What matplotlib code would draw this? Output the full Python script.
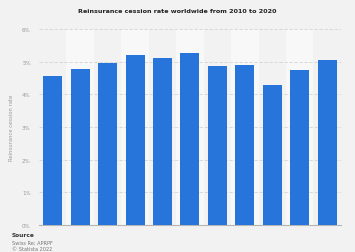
import matplotlib.pyplot as plt

years = ['2010', '2011', '2012', '2013', '2014', '2015', '2016', '2017', '2018', '2019', '2020']
cession_rate = [4.58, 4.79, 4.98, 5.20, 5.13, 5.26, 4.87, 4.92, 4.30, 4.76, 5.07]
y_ticks = [0, 1, 2, 3, 4, 5, 6]
y_tick_labels = ['0%', '1%', '2%', '3%', '4%', '5%', '6%']

bg = '#f2f2f2'
fig = plt.figure(figsize=(3.55, 2.53), dpi=100, facecolor=bg)
ax = fig.add_axes([0.11, 0.108, 0.85, 0.772])
ax.set_facecolor(bg)

x = range(len(years))
# alternating column bands
for i in x:
    if i % 2 == 1:
        ax.axvspan(i - 0.5, i + 0.5, color='#f8f8f8', zorder=0, lw=0)

for t in y_ticks[1:]:
    ax.axhline(t, color='#d4d4d4', lw=0.6, ls=(0, (4, 2)), zorder=1)

ax.bar(x, cession_rate, width=0.69, color='#2775db', zorder=3)

ax.set_xlim(-0.5, len(years) - 0.5)
ax.set_ylim(0, 6)
ax.set_xticks([])
ax.set_yticks(y_ticks)
ax.set_yticklabels(y_tick_labels, fontsize=4, color='#9a9a9a')
ax.tick_params(axis='y', length=0, pad=6)
for s in ['top', 'right', 'left']:
    ax.spines[s].set_visible(False)
ax.spines['bottom'].set_color('#b5b5b5')
ax.spines['bottom'].set_linewidth(0.8)
ax.set_ylabel('Reinsurance cession rate', fontsize=3.8, color='#9a9a9a', labelpad=6)

fig.text(0.5, 0.953, 'Reinsurance cession rate worldwide from 2010 to 2020',
         ha='center', va='center', fontsize=4.6, fontweight='bold', color='#222222')
fig.text(0.034, 0.068, 'Source', fontsize=4.2, fontweight='bold', color='#333333', va='center')
fig.text(0.034, 0.038, 'Swiss Re; APRPF', fontsize=3.6, color='#777777', va='center')
fig.text(0.034, 0.012, '\u00a9 Statista 2022', fontsize=3.6, color='#777777', va='center')

fig.savefig('out.png', dpi=100, facecolor=bg)
